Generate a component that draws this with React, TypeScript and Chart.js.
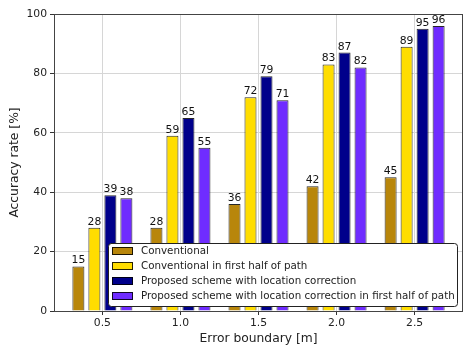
import React, { useEffect, useRef } from "react";
import { Chart, registerables } from "chart.js";

Chart.register(...registerables);

const categories = [0.5, 1.0, 1.5, 2.0, 2.5];
const conventional = [15, 28, 36, 42, 45];
const conventionalFirstHalf = [28, 59, 72, 83, 89];
const proposed = [39, 65, 79, 87, 95];
const proposedFirstHalf = [38, 55, 71, 82, 96];
const seriesLabels = [
  "Conventional",
  "Conventional in first half of path",
  "Proposed scheme with location correction",
  "Proposed scheme with location correction in first half of path",
];
const seriesColors = ["#B8860B", "#FFDD00", "#00008B", "#6F2CFF"];
const yTicks = [0, 20, 40, 60, 80, 100];

const FONT = "'DejaVu Sans', sans-serif";

export default function App() {
  const ref = useRef<HTMLCanvasElement | null>(null);
  useEffect(() => {
    document.body.style.margin = "0";
    const canvas = ref.current!;
    const seriesData = [conventional, conventionalFirstHalf, proposed, proposedFirstHalf];
    const datasets = seriesData.map((vals, i) => ({
      label: seriesLabels[i],
      data: categories.map((c, j) => ({ x: c, y: vals[j] })),
      backgroundColor: seriesColors[i],
      borderColor: "rgba(0,0,0,0.85)",
      borderWidth: 1,
      categoryPercentage: 0.82,
      barPercentage: 0.75,
    }));

    const overlay = {
      id: "overlay",
      afterDatasetsDraw(chart: any) {
        const ctx = chart.ctx;
        ctx.save();
        ctx.font = `10.8px ${FONT}`;
        ctx.fillStyle = "#111";
        ctx.textAlign = "center";
        ctx.textBaseline = "bottom";
        chart.data.datasets.forEach((ds: any, i: number) => {
          const meta = chart.getDatasetMeta(i);
          meta.data.forEach((bar: any, j: number) => {
            ctx.fillText(String(ds.data[j].y), bar.x, bar.y - 0.5);
          });
        });
        ctx.restore();
      },
      afterDraw(chart: any) {
        const ctx = chart.ctx;
        const a = chart.chartArea;
        ctx.save();
        // frame
        ctx.strokeStyle = "#444";
        ctx.lineWidth = 1;
        ctx.strokeRect(Math.round(a.left) + 0.5, Math.round(a.top) + 0.5, Math.round(a.right - a.left) - 1, Math.round(a.bottom - a.top));
        // legend
        const lx = 108, ly = 243, lw = 349, lh = 63;
        ctx.beginPath();
        const r = 3;
        ctx.moveTo(lx + r, ly + 0.5);
        ctx.arcTo(lx + lw + 0.5, ly + 0.5, lx + lw + 0.5, ly + lh, r);
        ctx.arcTo(lx + lw + 0.5, ly + lh + 0.5, lx, ly + lh + 0.5, r);
        ctx.arcTo(lx + 0.5, ly + lh + 0.5, lx + 0.5, ly, r);
        ctx.arcTo(lx + 0.5, ly + 0.5, lx + lw, ly + 0.5, r);
        ctx.closePath();
        ctx.fillStyle = "#fff";
        ctx.fill();
        ctx.strokeStyle = "#222";
        ctx.stroke();
        ctx.font = `10.3px ${FONT}`;
        ctx.textBaseline = "middle";
        ctx.textAlign = "left";
        seriesLabels.forEach((lab, i) => {
          const cy = 251 + i * 15;
          ctx.fillStyle = seriesColors[i];
          ctx.fillRect(112, cy - 4, 21, 8);
          ctx.strokeStyle = "rgba(0,0,0,0.85)";
          ctx.strokeRect(112.5, cy - 3.5, 20, 7);
          ctx.fillStyle = "#222";
          ctx.fillText(lab, 141, cy + 0.5);
        });
        // axis titles
        ctx.font = `12.3px ${FONT}`;
        ctx.fillStyle = "#222";
        ctx.textAlign = "center";
        ctx.textBaseline = "middle";
        ctx.fillText("Error boundary [m]", (a.left + a.right) / 2, 339);
        ctx.translate(15, (a.top + a.bottom) / 2);
        ctx.rotate(-Math.PI / 2);
        ctx.fillText("Accuracy rate [%]", 0, 0);
        ctx.restore();
      },
    };

    const chart = new Chart(canvas, {
      type: "bar",
      data: { datasets },
      options: {
        animation: false,
        responsive: false,
        devicePixelRatio: 1,
        layout: { padding: { top: 14, right: 11, left: 0, bottom: 0 } },
        plugins: { legend: { display: false }, tooltip: { enabled: false } },
        scales: {
          x: {
            type: "linear",
            min: 0.19,
            max: 2.81,
            offset: false,
            afterFit: (s: any) => { s.height = 44; },
            afterBuildTicks: (s: any) => { s.ticks = categories.map((v) => ({ value: v })); },
            grid: { offset: false, color: "#d6d6d6", lineWidth: 1, tickLength: 4, tickColor: "#333", drawTicks: true },
            border: { display: false },
            ticks: {
              font: { family: FONT, size: 10.8 },
              color: "#222",
              padding: 2,
              maxRotation: 0,
              callback: (v: any) => Number(v).toFixed(1),
            },
          },
          y: {
            min: 0,
            max: 100,
            afterFit: (s: any) => { s.width = 54; },
            afterBuildTicks: (s: any) => { s.ticks = yTicks.map((v) => ({ value: v })); },
            grid: { color: "#d6d6d6", lineWidth: 1, tickLength: 4, tickColor: "#333" },
            border: { display: false },
            ticks: {
              font: { family: FONT, size: 10.8 },
              color: "#222",
              padding: 3,
            },
          },
        },
      },
      plugins: [overlay],
    } as any);
    return () => chart.destroy();
  }, []);
  return <canvas ref={ref} width={474} height={355} style={{ display: "block" }} />;
}
